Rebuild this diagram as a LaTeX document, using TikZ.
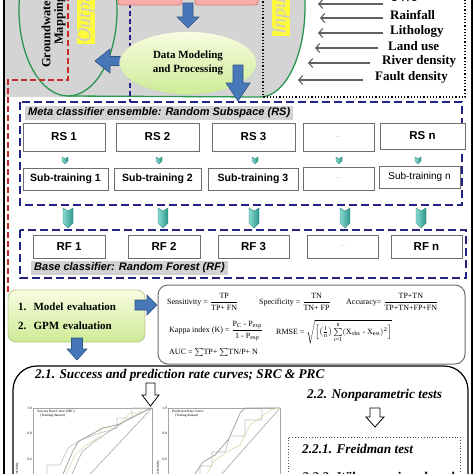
\documentclass[tikz,border=0pt]{standalone}
\usepackage{amsmath}
\usepackage{fontspec}
\setmainfont{Liberation Serif}
\setsansfont{Liberation Sans}
\usetikzlibrary{positioning,shapes.geometric,arrows.meta}

\definecolor{topgray}{RGB}{212,212,212}
\definecolor{gpmgreen}{RGB}{40,150,80}
\definecolor{gpmred}{RGB}{200,40,40}
\definecolor{navy}{RGB}{35,35,135}
\definecolor{arrowblue}{RGB}{70,120,185}
\definecolor{tealA}{RGB}{135,218,208}
\definecolor{tealB}{RGB}{45,150,140}
\definecolor{boxgray}{RGB}{110,110,110}
\definecolor{pinkfill}{RGB}{248,172,172}
\definecolor{pinkline}{RGB}{225,120,120}
\definecolor{evaltop}{RGB}{248,252,225}
\definecolor{evalbot}{RGB}{205,235,150}
\definecolor{labyellow}{RGB}{255,250,60}

% block arrow: style, x, y, angle, length, head length, half shaft, half head
\newcommand{\blkarrow}[8]{%
  \path[#1, shift={(#2,#3)}, rotate=#4]
    (0,-#7) -- ({#5-#6},-#7) -- ({#5-#6},-#8) -- (#5,0)
    -- ({#5-#6},#8) -- ({#5-#6},#7) -- (0,#7) -- cycle;}
% small notched arrow: x, y, half width, height, notch
\newcommand{\chevron}[5]{%
  \path[tealarrow, shift={(#1,#2)}]
    (-#3,0) -- (0,#5) -- (#3,0) -- (#3,{#4-#3}) -- (0,#4) -- (-#3,{#4-#3}) -- cycle;}

\begin{document}
\begin{tikzpicture}[
    x=1pt, y=-1pt,
    greenline/.style={draw=gpmgreen, line width=1.3pt},
    reddash/.style={draw=gpmred, line width=1.5pt, dash pattern=on 6pt off 3pt},
    navydash/.style={draw=navy, line width=1.6pt, dash pattern=on 8pt off 4pt},
    rsbox/.style={draw=boxgray, line width=0.9pt, fill=white, inner sep=0pt,
      font=\sffamily\bfseries\fontsize{11.5}{12}\selectfont},
    subbox/.style={rsbox, font=\sffamily\bfseries\fontsize{10.5}{11}\selectfont},
    dotsbox/.style={rsbox, text=gray!60, font=\sffamily\fontsize{7}{8}\selectfont},
    header/.style={fill=gray!35, anchor=west, inner xsep=3pt, inner ysep=1.5pt,
      font=\sffamily\bfseries\itshape\fontsize{11}{12}\selectfont},
    inlabel/.style={anchor=west, inner sep=0pt, font=\bfseries\fontsize{13}{14}\selectfont},
    inarrow/.style={draw=gray!75!black, line width=1.1pt, -{Straight Barb[length=4pt,width=9pt]}},
    sidelab/.style={rotate=90, anchor=west, fill=labyellow, inner xsep=1pt, inner ysep=0pt,
      text=gray!40, font=\itshape\fontsize{20}{20}\selectfont},
    gwlab/.style={rotate=90, anchor=west, inner sep=0pt, font=\bfseries\fontsize{12.5}{13}\selectfont},
    bluearrow/.style={fill=arrowblue, draw=arrowblue!70!black, line width=0.6pt},
    openarrow/.style={fill=white, draw=black, line width=0.8pt},
    tealarrow/.style={left color=tealA, right color=tealB, draw=tealB!80!black, line width=0.3pt},
    formula/.style={anchor=west, inner sep=0pt, font=\fontsize{8}{9}\selectfont},
    section/.style={anchor=west, inner sep=0pt, font=\bfseries\itshape\fontsize{13.3}{14}\selectfont},
    tiny/.style={inner sep=0pt, font=\fontsize{3.5}{4}\selectfont},
    curve/.style={line width=0.7pt}
]
\useasboundingbox (0,0) rectangle (474,474);
\clip (0,0) rectangle (474,474);
\fill[white] (0,0) rectangle (474,474);

% Top part: inputs, modelling, output
\fill[topgray] (5,-5) rectangle (263,97);
\fill[topgray] (263,-5) -- (305,-5) -- (305,7) .. controls (305,56.7) and (284.8,97) .. (260,97) -- cycle;
\draw[greenline] (68,10) ellipse [x radius=49pt, y radius=86pt];
\draw[greenline] (68,96) -- (260,97) .. controls (284.8,97) and (305,56.7) .. (305,7) -- (305,-5);
\draw[reddash] (68,-5) -- (68,80) -- (8,80) -- (8,293);
\draw[draw=navy, line width=1.2pt, dash pattern=on 5pt off 3pt] (130,-5) -- (130,102);

\node[gwlab] (gw) at (46,68) {Groundwater};
\node[gwlab] (gpm) at (60,45) {Mapping (GPM)};
\node[sidelab] (outlab) at (86,44) {Output};
\node[sidelab] (inlab) at (281,36) {Input};

\draw[fill=pinkfill, draw=pinkline, line width=0.8pt, rounded corners=3pt] (118,-10) rectangle (182,5);
\draw[fill=pinkfill, draw=pinkline, line width=0.8pt, rounded corners=3pt] (195,-10) rectangle (258,5);

\blkarrow{bluearrow}{188}{3}{-90}{25}{11}{5}{11}
\blkarrow{bluearrow}{128}{61}{180}{33}{15}{4.5}{12}
\node[ellipse, draw=gray!40, top color=evaltop, bottom color=evalbot, minimum width=137pt,
  minimum height=63pt, align=center, font=\bfseries\fontsize{11}{14}\selectfont] (proc) at (188,63)
  {Data Modeling\\and Processing};
\blkarrow{bluearrow}{238}{65}{-90}{36}{18}{5}{12}

% input factors
\draw[black, line width=1.2pt, dotted] (263,-5) -- (263,97) -- (465,97) -- (465,-5);
\node[inlabel] (twi) at (390,-3) {TWI};
\node[inlabel] (rain) at (390,15) {Rainfall};
\node[inlabel] (lith) at (390,31) {Lithology};
\node[inlabel] (land) at (388,46) {Land use};
\node[inlabel] (river) at (382,61) {River density};
\node[inlabel] (fault) at (375,77) {Fault density};
\coordinate (twiend) at (318,4);
\coordinate (rainend) at (320,18);
\coordinate (lithend) at (318,33);
\coordinate (landend) at (315,48);
\coordinate (riverend) at (308,63);
\coordinate (faultend) at (298,80);
\draw[inarrow] (twi.west |- twiend) ++(-7,0) -- (twiend);
\draw[inarrow] (rain.west |- rainend) ++(-7,0) -- (rainend);
\draw[inarrow] (lith.west |- lithend) ++(-7,0) -- (lithend);
\draw[inarrow] (land.west |- landend) ++(-10,0) -- (landend);
\draw[inarrow] (river.west |- riverend) ++(-12,0) -- (riverend);
\draw[inarrow] (fault.west |- faultend) ++(-12,0) -- (faultend);

% Meta classifier ensemble
\draw[navydash] (20,102) rectangle (462,205);
\node[header] (metahead) at (25,113) {Meta classifier ensemble: Random Subspace (RS)};
\node[rsbox, minimum width=82pt, minimum height=28pt] (rs1) at (64,137) {RS 1};
\node[rsbox, minimum width=83pt, minimum height=28pt] (rs2) at (157.5,137) {RS 2};
\node[rsbox, minimum width=83pt, minimum height=28pt] (rs3) at (253.5,137) {RS 3};
\node[dotsbox, minimum width=71pt, minimum height=28pt] (rsd) at (338.5,137) {...};
\node[rsbox, minimum width=85pt, minimum height=26pt] (rsn) at (422.5,136) {RS n};
\foreach \cx in {65,159,255,339,418}
  \chevron{\cx}{157}{3}{7}{2}
\node[subbox, minimum width=85pt, minimum height=22pt] (sub1) at (65.5,179) {Sub-training 1};
\node[subbox, minimum width=87pt, minimum height=22pt] (sub2) at (157.5,179) {Sub-training 2};
\node[subbox, minimum width=90pt, minimum height=22pt] (sub3) at (253,179) {Sub-training 3};
\node[dotsbox, minimum width=71pt, minimum height=23pt] (subd) at (338.5,178.5) {...};
\node[rsbox, minimum width=81pt, minimum height=22pt,
  font=\sffamily\fontsize{10}{11}\selectfont] (subn) at (419.5,177) {Sub-training n};

% Base classifier
\draw[navydash] (20,230) rectangle (466,278);
\foreach \cx in {68,163,254,345,421}
  \chevron{\cx}{208}{5}{20}{3}
\node[rsbox, minimum width=72pt, minimum height=23pt] (rf1) at (69,246.5) {RF 1};
\node[rsbox, minimum width=72pt, minimum height=23pt] (rf2) at (164,246.5) {RF 2};
\node[rsbox, minimum width=71pt, minimum height=23pt] (rf3) at (253.5,246.5) {RF 3};
\node[dotsbox, minimum width=71pt, minimum height=23pt] (rfd) at (342.5,246.5) {...};
\node[rsbox, minimum width=71pt, minimum height=23pt] (rfn) at (426.5,246.5) {RF n};
\node[header] (basehead) at (31,268) {Base classifier: Random Forest (RF)};

% Evaluation
\node[draw=evalbot!70!gray, line width=0.8pt, rounded corners=8pt, top color=evaltop,
  bottom color=evalbot, text width=117pt, inner xsep=10pt, minimum height=52pt, align=left,
  font=\bfseries\fontsize{11}{19}\selectfont] (eval) at (76.5,316)
  {1.~~Model evaluation\\2.~~GPM evaluation};
\blkarrow{bluearrow}{135}{305}{0}{22}{10}{5}{10}
\blkarrow{bluearrow}{77}{338}{-90}{22}{11}{5.5}{10}

\node[draw=boxgray, line width=1pt, rounded corners=10pt, minimum width=307pt,
  minimum height=79pt] (fbox) at (311.5,324.5) {};
\node[formula] (sens) at (167,302) {Sensitivity = $\dfrac{\text{TP}}{\text{TP+ FN}}$};
\node[formula] (spec) at (259,302) {Specificity = $\dfrac{\text{TN}}{\text{TN+ FP}}$};
\node[formula] (acc) at (346,302) {Accuracy= $\dfrac{\text{TP+TN}}{\text{TP+TN+FP+FN}}$};
\node[formula] (kappa) at (169,331) {Kappa index (K) = $\dfrac{\text{P}_\text{C}\text{ - P}_\text{exp}}{\text{1 - P}_\text{exp}}$};
\node[formula] (rmse) at (276,332) {RMSE = $\sqrt{\Bigl[\bigl(\frac{\text{1}}{\text{n}}\bigr)\sum\limits_{\text{i=1}}^{\text{n}}(\text{X}_\text{obs}\text{ - X}_\text{est})^2\Bigr]}$};
\node[formula] (auc) at (169,352) {AUC = $\sum$TP+ $\sum$TN/P+ N};

% Success / prediction rate curves and tests
\draw[black, line width=1.2pt, rounded corners=24pt] (13,500) -- (13,366) -- (468,366) -- (468,500);
\node[section] (sec21) at (35,375) {2.1. Success and prediction rate curves; SRC \& PRC};
\blkarrow{openarrow}{150.5}{383}{-90}{23}{11}{4.5}{8.5}

% chart 1
\draw[gray!70, line width=0.5pt] (33,408) rectangle (152,540);
\draw[gray!70, line width=0.6pt] (152,408) -- (33,535);
\draw[curve, gray!45] (47,474) -- (47,465) -- (60,465) -- (68,448) -- (80,440) -- (100,433) -- (117,428) -- (117,418) -- (132,418) -- (132,408) -- (152,408);
\draw[curve, yellow!40!gray!45] (66,474) -- (75,455) -- (85,446) -- (100,436) -- (100,428) -- (115,428) -- (130,413) -- (140,413) -- (140,408);
\draw[curve, gray!80] (63,474) -- (72,453) -- (78,442) -- (90,435) -- (103,428) -- (120,424) -- (133,417) -- (147,410) -- (152,408);
\draw[curve, gray!60] (72,474) -- (82,452) -- (95,441) -- (110,431) -- (125,421) -- (145,411);
\node[tiny, anchor=north west, align=left] (src) at (37,410) {Success Rate Curve (SRC)\\\hspace{3pt}(Training dataset)};
\node[tiny, anchor=east] (c1a) at (32,408) {1.0};
\node[tiny, anchor=east] (c1b) at (32,433) {0.8};
\node[tiny, anchor=east] (c1c) at (32,459) {0.6};
\node[tiny, rotate=90] (c1y) at (17,470) {Sensitivity};

% chart 2
\draw[gray!70, line width=0.5pt] (168,408) rectangle (280,540);
\draw[gray!70, line width=0.6pt] (280,408) -- (168,535);
\draw[curve, gray!80] (195,474) -- (203,462) -- (215,455) -- (228,440) -- (235,425) -- (240,413) -- (245,408) -- (280,408);
\draw[curve, gray!50] (200,474) -- (200,466) -- (212,466) -- (212,452) -- (225,452) -- (230,436) -- (245,436) -- (245,420) -- (262,420) -- (262,408) -- (280,408);
\draw[curve, yellow!40!gray!45] (207,474) -- (215,460) -- (230,450) -- (240,445) -- (250,425) -- (260,418) -- (270,410) -- (280,408);
\node[tiny, anchor=north west, align=left] (prc) at (172,410) {Prediction Rate Curve\\\hspace{3pt}(Testing dataset)};
\node[tiny, anchor=east] (c2a) at (167,408) {1.0};
\node[tiny, anchor=east] (c2b) at (167,433) {0.8};
\node[tiny, anchor=east] (c2c) at (167,459) {0.6};
\node[tiny, rotate=90] (c2y) at (158,468) {Sensitivity};

\node[section] (sec22) at (307,395) {2.2. Nonparametric tests};
\blkarrow{openarrow}{375}{408}{-90}{19}{10}{5}{9}
\draw[black!70, line width=0.8pt, dotted] (288,500) -- (288,437) -- (460,437) -- (460,500);
\node[section, anchor=base west] (fried) at (302,453) {2.2.1. Freidman test};
\node[section, anchor=base west] (wilc) at (302,481) {2.2.2. Wilcoxon signed-rank};

% outer frame
\draw[black, line width=2pt] (4,-5) -- (4,480);
\draw[black, line width=2pt] (472,-5) -- (472,480);
\end{tikzpicture}
\end{document}
